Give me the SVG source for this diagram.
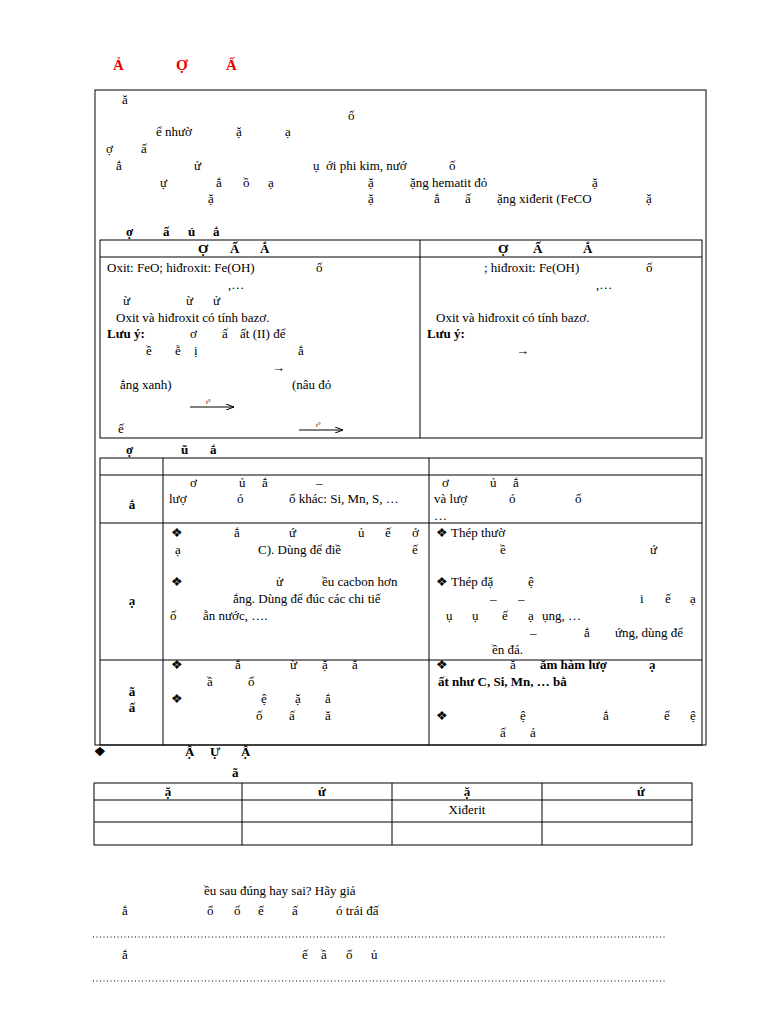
<svg xmlns="http://www.w3.org/2000/svg" width="768" height="1024" viewBox="0 0 768 1024">
<style>
text{font-family:"Liberation Serif","DejaVu Serif",serif;font-size:13px;fill:#000}
.t{fill:#e00;font-weight:bold;font-size:15px}
.b{font-weight:bold}
.c{text-anchor:middle}
line,rect{stroke:#000;stroke-width:1;fill:none}
.d{stroke-dasharray:1 2.5}
</style>
<defs><marker id="a" markerWidth="8" markerHeight="6" refX="8" refY="3" orient="auto"><path d="M0,0 L8,3 L0,6" fill="none" stroke="#000"/></marker></defs>
<g id="title"><text class="t" x="113" y="70">Ả</text><text class="t" x="176" y="70">Ợ</text><text class="t" x="226" y="70">Ấ</text></g>
<g id="intro">
<rect x="95" y="90" width="611" height="655"/>
<text x="122" y="104">ă</text>
<text x="348" y="120">ố</text>
<text x="156" y="136">ể nhườ</text><text x="236" y="136">ặ</text><text x="285" y="136">ạ</text>
<text x="106" y="153">ợ</text><text x="141" y="153">ấ</text>
<text x="116" y="170">ắ</text><text x="194" y="170">ử</text><text x="313" y="170">ụ</text><text x="326" y="170">ới phi kim, nướ</text><text x="449" y="170">ố</text>
<text x="160" y="187">ự</text><text x="216" y="187">ắ</text><text x="243" y="187">ồ</text><text x="268" y="187">ạ</text><text x="368" y="187">ặ</text><text x="410" y="187">ặng hematit đỏ</text><text x="592" y="187">ặ</text>
<text x="208" y="203">ặ</text><text x="368" y="203">ặ</text><text x="434" y="203">ắ</text><text x="465" y="203">ấ</text><text x="497" y="203">ặng xiđerit (FeCO</text><text x="646" y="203">ặ</text>
<text class="b" x="126" y="236">ợ</text><text class="b" x="163" y="236">ấ</text><text class="b" x="188" y="236">ủ</text><text class="b" x="213" y="236">ắ</text>
</g>
<g id="table1">
<rect x="100" y="240" width="602" height="198"/>
<line x1="100" y1="257" x2="702" y2="257"/><line x1="420" y1="240" x2="420" y2="438"/>
<text class="b" x="198" y="253">Ợ</text><text class="b" x="230" y="253">Ấ</text><text class="b" x="260" y="253">Ắ</text>
<text class="b" x="498" y="253">Ợ</text><text class="b" x="533" y="253">Ấ</text><text class="b" x="583" y="253">Ắ</text>
<text x="107" y="272">Oxit: FeO; hiđroxit: Fe(OH)</text><text x="316" y="272">ố</text>
<text x="228" y="289">,…</text>
<text x="123" y="305">ừ</text><text x="186" y="305">ừ</text><text x="213" y="305">ử</text>
<text x="116" y="322">Oxit và hiđroxit có tính bazơ.</text>
<text class="b" x="107" y="338">Lưu ý:</text><text x="190" y="338">ơ</text><text x="222" y="338">ấ</text><text x="240" y="338">ất (II) để</text>
<text x="146" y="355">ề</text><text x="175" y="355">ễ</text><text x="194" y="355">ị</text><text x="298" y="355">ắ</text>
<text x="272" y="372">→</text>
<text x="120" y="389">ắng xanh)</text><text x="292" y="389">(nâu đỏ</text>
<line x1="190" y1="407" x2="234" y2="407" marker-end="url(#a)"/><text x="206" y="404" style="font-size:7px">t°</text>
<text x="118" y="433">ế</text>
<line x1="299" y1="430" x2="343" y2="430" marker-end="url(#a)"/><text x="316" y="427" style="font-size:7px">t°</text>
<text x="484" y="272">; hiđroxit: Fe(OH)</text><text x="646" y="272">ố</text>
<text x="596" y="289">,…</text>
<text x="436" y="322">Oxit và hiđroxit có tính bazơ.</text>
<text class="b" x="427" y="338">Lưu ý:</text>
<text x="516" y="355">→</text>
</g>
<g id="sub2"><text class="b" x="126" y="454">ợ</text><text class="b" x="181" y="454">ũ</text><text class="b" x="210" y="454">ắ</text></g>
<g id="table2">
<rect x="100" y="458" width="602" height="287"/>
<line x1="100" y1="475" x2="702" y2="475"/><line x1="100" y1="523" x2="702" y2="523"/><line x1="100" y1="660" x2="702" y2="660"/>
<line x1="163" y1="458" x2="163" y2="745"/><line x1="429" y1="458" x2="429" y2="745"/>
<text class="b c" x="132" y="509">ắ</text>
<text x="190" y="487">ơ</text><text x="239" y="487">ủ</text><text x="262" y="487">ắ</text><text x="316" y="487">–</text>
<text x="169" y="503">lượ</text><text x="237" y="503">ó</text><text x="289" y="503">ố khác: Si, Mn, S, …</text>
<text x="442" y="487">ơ</text><text x="490" y="487">ủ</text><text x="513" y="487">ắ</text>
<text x="434" y="503">và lượ</text><text x="509" y="503">ó</text><text x="575" y="503">ố</text>
<text x="434" y="520">…</text>
<text class="b c" x="132" y="605">ạ</text>
<text x="171" y="537">❖</text><text x="234" y="537">ắ</text><text x="289" y="537">ứ</text><text x="358" y="537">ủ</text><text x="385" y="537">ế</text><text x="412" y="537">ở</text>
<text x="175" y="554">ạ</text><text x="258" y="554">C). Dùng để điề</text><text x="412" y="554">ế</text>
<text x="171" y="586">❖</text><text x="276" y="586">ử</text><text x="322" y="586">ều cacbon hơn</text>
<text x="233" y="603">ắng. Dùng để đúc các chi tiế</text>
<text x="170" y="620">ố</text><text x="203" y="620">ẫn nước, ….</text>
<text x="436" y="537">❖ Thép thườ</text>
<text x="500" y="554">ề</text><text x="650" y="554">ứ</text>
<text x="436" y="586">❖ Thép đặ</text><text x="528" y="586">ệ</text>
<text x="490" y="603">–</text><text x="518" y="603">–</text><text x="640" y="603">i</text><text x="665" y="603">ế</text><text x="690" y="603">ạ</text>
<text x="446" y="620">ụ</text><text x="472" y="620">ụ</text><text x="502" y="620">ế</text><text x="528" y="620">ạ</text><text x="542" y="620">ụng, …</text>
<text x="530" y="637">–</text><text x="584" y="637">ắ</text><text x="615" y="637">ứng, dùng để</text>
<text x="492" y="654">ền đá.</text>
<text class="b c" x="132" y="696">ã</text><text class="b c" x="132" y="712">ấ</text>
<text x="171" y="669">❖</text><text x="235" y="669">ắ</text><text x="290" y="669">ừ</text><text x="322" y="669">ặ</text><text x="352" y="669">ă</text>
<text x="207" y="686">ầ</text><text x="248" y="686">ố</text>
<text x="171" y="703">❖</text><text x="261" y="703">ệ</text><text x="295" y="703">ặ</text><text x="325" y="703">ắ</text>
<text x="256" y="720">ố</text><text x="289" y="720">ấ</text><text x="325" y="720">ă</text>
<text x="436" y="669">❖</text><text x="510" y="669">ă</text><text class="b" x="540" y="669">ăm hàm lượ</text><text class="b" x="649" y="669">ạ</text>
<text class="b" x="438" y="686">ất như C, Si, Mn, … bằ</text>
<text x="436" y="720">❖</text><text x="520" y="720">ệ</text><text x="603" y="720">ắ</text><text x="664" y="720">ế</text><text x="690" y="720">ệ</text>
<text x="500" y="737">ấ</text><text x="530" y="737">ả</text>
</g>
<g id="sec3"><text class="b" x="94" y="756">❖</text><text class="b" x="185" y="756">Ậ</text><text class="b" x="210" y="756">Ự</text><text class="b" x="241" y="756">Ậ</text><text class="b" x="232" y="777">ã</text></g>
<g id="table3">
<rect x="94" y="783" width="598" height="62"/>
<line x1="94" y1="800" x2="692" y2="800"/><line x1="94" y1="822" x2="692" y2="822"/>
<line x1="242" y1="783" x2="242" y2="845"/><line x1="392" y1="783" x2="392" y2="845"/><line x1="542" y1="783" x2="542" y2="845"/>
<text class="b c" x="168" y="796">ặ</text><text class="b c" x="322" y="796">ứ</text><text class="b c" x="467" y="796">ặ</text><text class="b c" x="641" y="796">ứ</text>
<text class="c" x="467" y="814">Xiđerit</text>
</g>
<g id="q">
<text x="204" y="895">ều sau đúng hay sai? Hãy giả</text>
<text x="122" y="915">ắ</text><text x="207" y="915">ố</text><text x="234" y="915">ổ</text><text x="258" y="915">ế</text><text x="292" y="915">ấ</text><text x="336" y="915">ó trái đấ</text>
<line class="d" x1="93" y1="937" x2="665" y2="937"/>
<text x="122" y="959">ắ</text><text x="302" y="959">ế</text><text x="321" y="959">ầ</text><text x="346" y="959">ố</text><text x="371" y="959">ủ</text>
<line class="d" x1="93" y1="981" x2="665" y2="981"/>
</g>
</svg>
